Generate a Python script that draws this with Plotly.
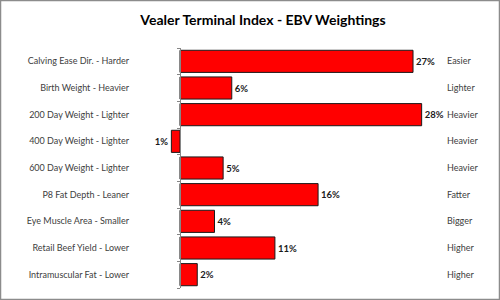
import plotly.graph_objects as go

categories = [
    "Calving Ease Dir. - Harder",
    "Birth Weight - Heavier",
    "200 Day Weight - Lighter",
    "400 Day Weight - Lighter",
    "600 Day Weight - Lighter",
    "P8 Fat Depth - Leaner",
    "Eye Muscle Area - Smaller",
    "Retail Beef Yield - Lower",
    "Intramuscular Fat - Lower",
]
weights = [27, 6, 28, -1, 5, 16, 4, 11, 2]
directions = ["Easier", "Lighter", "Heavier", "Heavier", "Heavier",
              "Fatter", "Bigger", "Higher", "Higher"]

W, H = 500, 300
L, R, T, B = 132, 56, 48, 12
pw, ph = W - L - R, H - T - B
xmin, xmax = -5.56, 30.59
font = "Lato"
pos = list(range(len(categories)))
bounds = [i - 0.5 for i in range(len(categories) + 1)]
yr = [len(categories) - 0.5, -0.5]

fig = go.Figure()
fig.add_trace(go.Bar(
    x=weights, y=pos, orientation="h",
    marker=dict(color="#FF0000", line=dict(color="#1a1a1a", width=1)),
    text=[f"{abs(v)}%" for v in weights], textposition="outside",
    textfont=dict(family=font, size=9.5, color="#1a1a1a", weight="bold"),
    constraintext="none", cliponaxis=False, width=0.83, hoverinfo="skip",
))
fig.add_trace(go.Scatter(x=[0], y=[0], yaxis="y2", mode="markers",
                         marker=dict(opacity=0), hoverinfo="skip", showlegend=False))
fig.add_trace(go.Scatter(x=[0], y=[0], yaxis="y3", mode="markers",
                         marker=dict(opacity=0), hoverinfo="skip", showlegend=False))

zero_pos = (0 - xmin) / (xmax - xmin)
fig.update_layout(
    width=W, height=H, margin=dict(l=L, r=R, t=T, b=B),
    paper_bgcolor="white", plot_bgcolor="white", showlegend=False,
    title=dict(text="<b>Vealer Terminal Index - EBV Weightings</b>",
               x=(263 - L) / pw, xref="paper", xanchor="center",
               y=1 - 20 / H, yanchor="middle",
               font=dict(family=font, size=14, color="#000000")),
    xaxis=dict(range=[xmin, xmax], visible=False),
    yaxis=dict(tickvals=pos, ticktext=categories, range=yr,
               showgrid=False, zeroline=False, showline=False, ticks="",
               ticklabelstandoff=2,
               tickfont=dict(family=font, size=9, color="#404040")),
    yaxis2=dict(overlaying="y", anchor="free", position=zero_pos, side="left",
                tickvals=bounds, range=yr, showticklabels=False,
                ticks="outside", ticklen=3, tickcolor="#868686",
                showline=True, linecolor="#868686", linewidth=1,
                showgrid=False, zeroline=False),
    yaxis3=dict(overlaying="y", anchor="x", side="right",
                tickvals=pos, ticktext=directions, range=yr,
                showgrid=False, zeroline=False, showline=False, ticks="",
                ticklabelstandoff=2,
                tickfont=dict(family=font, size=9, color="#404040")),
)
fig.add_shape(type="rect", xref="paper", yref="paper",
              x0=(0.5 - L) / pw, x1=(W - 0.5 - L) / pw,
              y0=-(B - 0.5) / ph, y1=(ph + T - 0.5) / ph,
              line=dict(color="#8c8c8c", width=1.5), layer="below")
fig.write_html("out.html")
